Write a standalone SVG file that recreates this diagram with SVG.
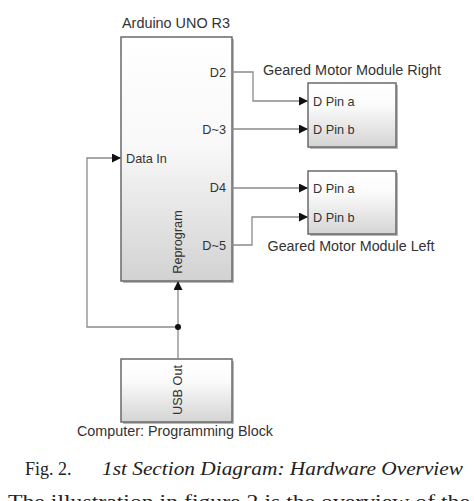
<svg xmlns="http://www.w3.org/2000/svg" width="474" height="501" viewBox="0 0 474 501">
<defs>
<linearGradient id="g" x1="0" y1="0" x2="0" y2="1">
<stop offset="0" stop-color="#ffffff"/>
<stop offset="0.35" stop-color="#fbfbfb"/>
<stop offset="1" stop-color="#d4d4d4"/>
</linearGradient>
<linearGradient id="gA" x1="0" y1="0" x2="0" y2="1">
<stop offset="0" stop-color="#ffffff"/>
<stop offset="0.45" stop-color="#f8f8f8"/>
<stop offset="1" stop-color="#d2d2d2"/>
</linearGradient>
<marker id="ah" viewBox="0 0 10 10" refX="10" refY="5" markerWidth="9" markerHeight="9" markerUnits="userSpaceOnUse" orient="auto">
<path d="M0,0 L10,5 L0,10 Z" fill="#111"/>
</marker>
</defs>
<style>
.box{stroke:#6a6a6a;stroke-width:1.5}
.sh{fill:#b8b8b8}
.t{font-family:"Liberation Sans",Arial,sans-serif;font-size:14px;fill:#333}
.p{font-family:"Liberation Sans",Arial,sans-serif;font-size:12.7px;fill:#333}
.w{fill:none;stroke:#8a8a8a;stroke-width:1.3}
.cap{font-family:"Liberation Serif","Times New Roman",serif;font-size:18px;fill:#222}
</style>
<rect width="474" height="501" fill="#fff"/>

<g id="arduino">
<rect class="sh" x="123" y="39" width="111" height="244"/>
<rect class="box" x="121" y="37" width="111" height="244" fill="url(#gA)"/>
<text class="t" x="176" y="28" text-anchor="middle" textLength="108" lengthAdjust="spacingAndGlyphs">Arduino UNO R3</text>
<text class="p" x="226" y="76.5" text-anchor="end">D2</text>
<text class="p" x="226" y="133.5" text-anchor="end">D~3</text>
<text class="p" x="226" y="191.5" text-anchor="end">D4</text>
<text class="p" x="226" y="249.5" text-anchor="end">D~5</text>
<text class="p" x="126" y="162.5">Data In</text>
<text class="p" transform="translate(181.5,242) rotate(-90)" text-anchor="middle">Reprogram</text>
</g>

<g id="motor-right">
<rect class="sh" x="310" y="85" width="88" height="64"/>
<rect class="box" x="308" y="83" width="88" height="64" fill="url(#g)"/>
<text class="t" x="352" y="74.5" text-anchor="middle" textLength="178" lengthAdjust="spacingAndGlyphs">Geared Motor Module Right</text>
<text class="p" x="313" y="105.5">D Pin a</text>
<text class="p" x="313" y="134">D Pin b</text>
</g>

<g id="motor-left">
<rect class="sh" x="310" y="173" width="88" height="63"/>
<rect class="box" x="308" y="171" width="88" height="63" fill="url(#g)"/>
<text class="t" x="351" y="251" text-anchor="middle" textLength="167" lengthAdjust="spacingAndGlyphs">Geared Motor Module Left</text>
<text class="p" x="313" y="192.5">D Pin a</text>
<text class="p" x="313" y="221.5">D Pin b</text>
</g>

<g id="computer">
<rect class="sh" x="123" y="361" width="111" height="63"/>
<rect class="box" x="121" y="359" width="111" height="63" fill="url(#g)"/>
<text class="p" transform="translate(182,390) rotate(-90)" text-anchor="middle">USB Out</text>
<text class="t" x="175" y="436" text-anchor="middle" textLength="196" lengthAdjust="spacingAndGlyphs">Computer: Programming Block</text>
</g>

<g id="connectors">
<polyline class="w" points="232,72 253,72 253,101 308,101" marker-end="url(#ah)"/>
<polyline class="w" points="232,129 308,129" marker-end="url(#ah)"/>
<polyline class="w" points="232,188 308,188" marker-end="url(#ah)"/>
<polyline class="w" points="232,245 252,245 252,217 308,217" marker-end="url(#ah)"/>
<polyline class="w" points="178,359 178,281" marker-end="url(#ah)"/>
<polyline class="w" points="178,327 87,327 87,158 121,158" marker-end="url(#ah)"/>
<circle cx="178" cy="327" r="3" fill="#111"/>
</g>

<g id="caption">
<text class="cap" x="25" y="475">Fig. 2.</text>
<text class="cap" x="102" y="475" font-style="italic" textLength="361" lengthAdjust="spacingAndGlyphs">1st Section Diagram: Hardware Overview</text>
<text class="cap" x="8" y="508" textLength="462" lengthAdjust="spacingAndGlyphs">The illustration in figure 2 is the overview of the</text>
</g>
</svg>
